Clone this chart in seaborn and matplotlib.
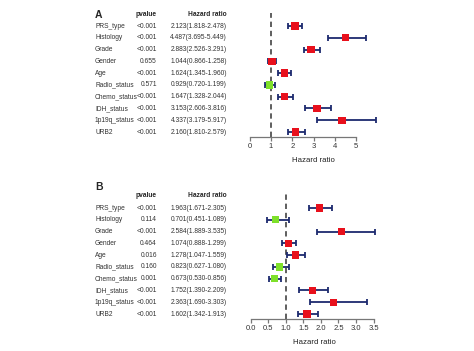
import matplotlib

matplotlib.use("Agg")

import matplotlib.pyplot as plt
import matplotlib.transforms as mtransforms
import pandas as pd
import seaborn as sns

W, H = 474, 351

VARIABLES = ["PRS_type", "Histology", "Grade", "Gender", "Age", "Radio_status",
             "Chemo_status", "IDH_status", "1p19q_status", "URB2"]

# panel A
A_PVALUE = ["<0.001", "<0.001", "<0.001", "0.655", "<0.001", "0.571",
            "<0.001", "<0.001", "<0.001", "<0.001"]
A_HR = [2.123, 4.487, 2.883, 1.044, 1.624, 0.929, 1.647, 3.153, 4.337, 2.160]
A_LOW = [1.818, 3.695, 2.526, 0.866, 1.345, 0.720, 1.328, 2.606, 3.179, 1.810]
A_HIGH = [2.478, 5.449, 3.291, 1.258, 1.960, 1.199, 2.044, 3.816, 5.917, 2.579]
A_TICKS = [0, 1, 2, 3, 4, 5]
A_TICKLABELS = ["0", "1", "2", "3", "4", "5"]

# panel B
B_PVALUE = ["<0.001", "0.114", "<0.001", "0.464", "0.016", "0.160",
            "0.001", "<0.001", "<0.001", "<0.001"]
B_HR = [1.963, 0.701, 2.584, 1.074, 1.278, 0.823, 0.673, 1.752, 2.363, 1.602]
B_LOW = [1.671, 0.451, 1.889, 0.888, 1.047, 0.627, 0.530, 1.390, 1.690, 1.342]
B_HIGH = [2.305, 1.089, 3.535, 1.299, 1.559, 1.080, 0.856, 2.209, 3.303, 1.913]
B_TICKS = [0.0, 0.5, 1.0, 1.5, 2.0, 2.5, 3.0, 3.5]
B_TICKLABELS = ["0.0", "0.5", "1.0", "1.5", "2.0", "2.5", "3.0", "3.5"]

RED = "#e8101c"
GREEN = "#7ee02a"
NAVY = "#1c2a6e"
ROW_PX = 11.78
TABLE_FS = 4.8


def px_axes(fig, left, top, width, height):
    return fig.add_axes([left / W, 1 - (top + height) / H, width / W, height / H])


def forest_panel(fig, hr, low, high, pvals, ticks, ticklabels,
                 left_px, unit_px, xmax, row0_px, y_top):
    df = pd.DataFrame({
        "variable": VARIABLES,
        "row": range(len(VARIABLES)),
        "hr": hr,
        "low": low,
        "high": high,
        "pvalue": pvals,
    })
    df["group"] = ["low" if v < 1 else "high" for v in df["hr"]]
    df["text"] = [f"{h:.3f}({l:.3f}-{u:.3f})" for h, l, u in zip(hr, low, high)]

    y_bottom = 9.42
    top_px = row0_px + y_top * ROW_PX
    height_px = (y_bottom - y_top) * ROW_PX
    ax = px_axes(fig, left_px, top_px, xmax * unit_px, height_px)

    ax.axvline(1, color="#333333", lw=1.1, ls=(0, (3.5, 2.5)), zorder=1)
    ax.errorbar(df["hr"], df["row"], xerr=[df["hr"] - df["low"], df["high"] - df["hr"]],
                fmt="none", ecolor=NAVY, elinewidth=1.3, capsize=2.2, capthick=1.3, zorder=2)
    sns.scatterplot(data=df, x="hr", y="row", hue="group", palette={"high": RED, "low": GREEN},
                    marker="s", s=28, linewidth=0, legend=False, ax=ax, zorder=3)

    ax.set_xlim(0, xmax)
    ax.set_ylim(y_bottom, y_top)
    ax.set_yticks([])
    ax.set_ylabel("")
    ax.set_xticks(ticks)
    ax.set_xticklabels(ticklabels)
    ax.set_xlabel("Hazard ratio", fontsize=5.6, labelpad=5, color="#222222")
    for side in ["top", "right", "left"]:
        ax.spines[side].set_visible(False)
    ax.spines["bottom"].set_bounds(ticks[0], ticks[-1])
    ax.spines["bottom"].set_color("#777777")
    ax.spines["bottom"].set_linewidth(0.9)
    ax.tick_params(axis="x", length=3, width=0.9, color="#777777", labelsize=5.5, pad=1.5,
                   labelcolor="#333333", bottom=True)
    ax.set_facecolor("none")

    trans = mtransforms.blended_transform_factory(fig.transFigure, ax.transData)
    for _, r in df.iterrows():
        ax.text(95 / W, r["row"], r["variable"], transform=trans, fontsize=TABLE_FS,
                color="#333333", ha="left", va="center")
        ax.text(157 / W, r["row"], r["pvalue"], transform=trans, fontsize=TABLE_FS,
                color="#333333", ha="right", va="center")
        ax.text(227 / W, r["row"], r["text"], transform=trans, fontsize=TABLE_FS,
                color="#333333", ha="right", va="center")
    return ax, trans


def main() -> None:
    sns.set_theme(style="white")
    plt.rcParams["font.family"] = ["Liberation Sans", "DejaVu Sans"]

    fig = plt.figure(figsize=(W / 100, H / 100), dpi=100)

    ax_a, trans_a = forest_panel(fig, A_HR, A_LOW, A_HIGH, A_PVALUE, A_TICKS, A_TICKLABELS,
                                 left_px=249.7, unit_px=21.3, xmax=6.0, row0_px=26, y_top=-1.1)
    ax_a.text(95 / W, -0.95, "A", transform=trans_a, fontsize=7.5, fontweight="bold",
              ha="left", va="center")
    ax_a.text(157 / W, -0.95, "pvalue", transform=trans_a, fontsize=4.8, fontweight="bold",
              ha="right", va="center")
    ax_a.text(227 / W, -0.95, "Hazard ratio", transform=trans_a, fontsize=4.8,
              fontweight="bold", ha="right", va="center")

    ax_b, trans_b = forest_panel(fig, B_HR, B_LOW, B_HIGH, B_PVALUE, B_TICKS, B_TICKLABELS,
                                 left_px=250.7, unit_px=35.1, xmax=3.63, row0_px=208, y_top=-1.27)
    ax_b.text(95 / W, -1.77, "B", transform=trans_b, fontsize=7.5, fontweight="bold",
              ha="left", va="center")
    ax_b.text(157 / W, -1.02, "pvalue", transform=trans_b, fontsize=4.8, fontweight="bold",
              ha="right", va="center")
    ax_b.text(227 / W, -1.02, "Hazard ratio", transform=trans_b, fontsize=4.8,
              fontweight="bold", ha="right", va="center")

    fig.savefig("out.png", dpi=100)
    plt.close(fig)


if __name__ == "__main__":
    main()
